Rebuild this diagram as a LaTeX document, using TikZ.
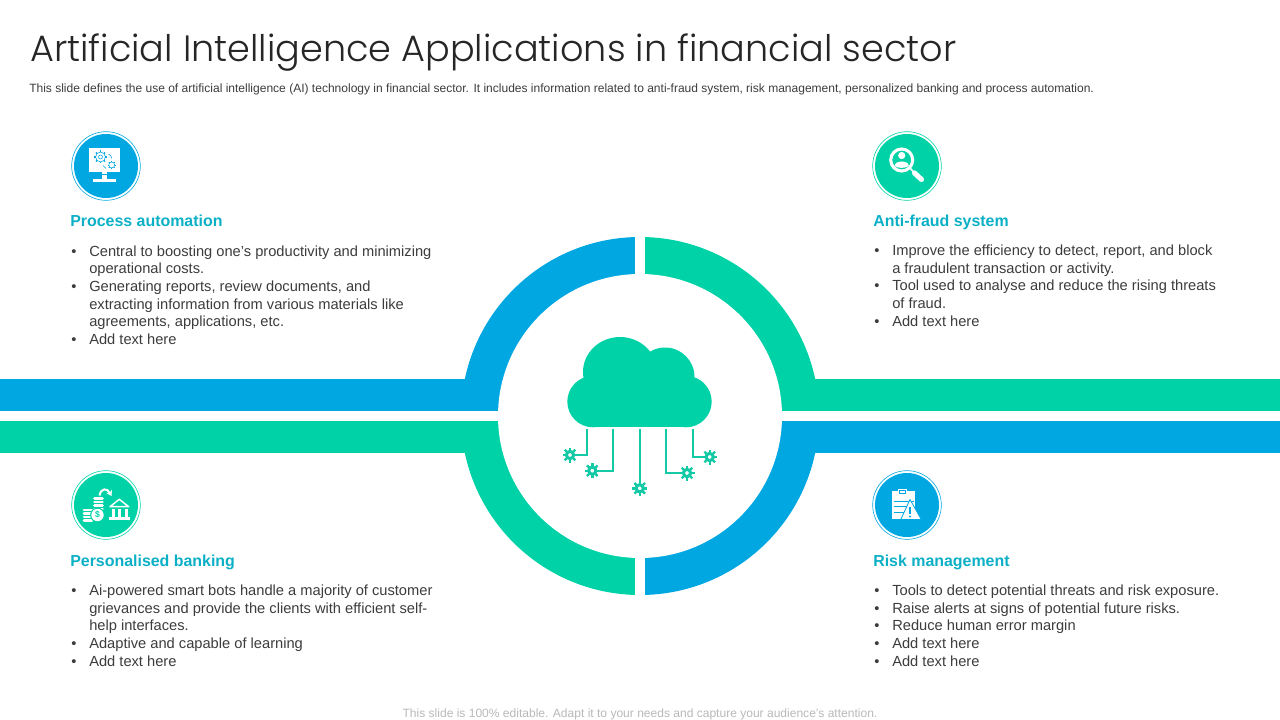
\documentclass[tikz,border=0pt]{standalone}
\usepackage{fontspec}
\usetikzlibrary{arrows.meta}
\setmainfont{Liberation Sans}
\newfontfamily\titlefont[UprightFont={* Light}]{Poppins}
\definecolor{ablue}{HTML}{00A7E1}
\definecolor{agreen}{HTML}{00D2A8}
\definecolor{aline}{HTML}{14C9A6}
\definecolor{ahead}{HTML}{0CB0C6}
\definecolor{abody}{HTML}{3C3C3C}
\tikzset{
  titletxt/.style={anchor=base west,inner sep=0pt,text=black!85,font=\titlefont\fontsize{27.47pt}{33pt}\selectfont},
  subtxt/.style={anchor=base west,inner sep=0pt,text=abody,font=\fontsize{9.02pt}{10pt}\selectfont},
  headtxt/.style={anchor=base west,inner sep=0pt,text=ahead,font=\bfseries\fontsize{11.95pt}{14pt}\selectfont},
  bodytxt/.style={anchor=base west,inner sep=0pt,text=abody,font=\fontsize{11pt}{13pt}\selectfont},
  foottxt/.style={anchor=base,inner sep=0pt,text=black!28,font=\fontsize{9.03pt}{10pt}\selectfont},
  gearnode/.style={circle,draw=aline,fill=white,inner sep=0pt,minimum size=5.4pt,line width=2.3pt},
  conn/.style={draw=aline,line width=1.35pt},
  badge/.style={circle,inner sep=0pt,minimum size=48pt,fill=#1},
  badgering/.style={circle,inner sep=0pt,minimum size=51.5pt,draw=#1,line width=0.45pt},
}
\newcommand\gearteeth[5]{\foreach \a in {0,45,...,315}{\draw[#5,line width=#4,line cap=butt] (#1) ++(\a:#2) -- ++(\a:#3);}}
\newcommand\bodyline[4]{\node[bodytxt] (#1) at (#2,#3) {#4};}
\newcommand\bulletat[3]{\node[bodytxt] (#1) at (#2,#3) {•};}
\begin{document}
\begin{tikzpicture}[x=0.75pt,y=-0.75pt]
\useasboundingbox (0,0) rectangle (1280,720);
% ring quadrants and bars
\begin{scope}\clip (0,0) rectangle (640,416); \fill[ablue] (640,416) circle (179); \fill[ablue] (0,379) rectangle (600,416); \end{scope}
\begin{scope}\clip (640,0) rectangle (1280,416); \fill[agreen] (640,416) circle (179); \fill[agreen] (680,379) rectangle (1280,416); \end{scope}
\begin{scope}\clip (0,416) rectangle (640,720); \fill[agreen] (640,416) circle (179); \fill[agreen] (0,416) rectangle (600,453); \end{scope}
\begin{scope}\clip (640,416) rectangle (1280,720); \fill[ablue] (640,416) circle (179); \fill[ablue] (680,416) rectangle (1280,453); \end{scope}
\fill[white] (0,411) rectangle (1280,421);
\fill[white] (635,230) rectangle (645,600);
\fill[white] (640,416) circle (142);
% cloud
\fill[agreen] (620,372) ellipse (37 and 35);
\fill[agreen] (665,377) circle (29.5);
\fill[agreen] (593,401.6) circle (25.7);
\fill[agreen] (686,401.6) circle (25.7);
\fill[agreen] (593,385) rectangle (686,427.3);
\fill[agreen] (600,365) rectangle (680,400);
% cloud gears and connectors
\coordinate (c1) at (586.7,429);
\coordinate (c2) at (613,429);
\coordinate (c3) at (639.7,429);
\coordinate (c4) at (666.3,429);
\coordinate (c5) at (692.7,429);
\node[gearnode] (g1) at (570,455) {};
\node[gearnode] (g2) at (592.3,470.7) {};
\node[gearnode] (g3) at (639.7,488.3) {};
\node[gearnode] (g4) at (687,473) {};
\node[gearnode] (g5) at (709.7,457) {};
\foreach \g in {g1,g2,g3,g4,g5}{\gearteeth{\g}{4.5}{3}{1.8pt}{aline}}
\draw[conn] (c1) |- (g1);
\draw[conn] (c2) |- (g2);
\draw[conn] (c3) -- (g3);
\draw[conn] (c4) |- (g4);
\draw[conn] (c5) |- (g5);
% badges
\node[badgering=ablue] (br1) at (106,166) {};
\node[badge=ablue] (b1) at (106,166) {};
\node[badgering=agreen] (br2) at (907,166) {};
\node[badge=agreen] (b2) at (907,166) {};
\node[badgering=agreen] (br3) at (106,505) {};
\node[badge=agreen] (b3) at (106,505) {};
\node[badgering=ablue] (br4) at (907,505) {};
\node[badge=ablue] (b4) at (907,505) {};
% monitor icon
\fill[white] (89.3,148) rectangle (119.5,172);
\fill[white] (102,172) rectangle (107,179.5);
\fill[white] (93,179.5) rectangle (115.5,182);
\fill[ablue] (101.5,174.5) rectangle (107.5,175.5);
\node[circle,draw=ablue,fill=white,line width=0.45pt,inner sep=0pt,minimum size=7.4pt] (m1) at (100.5,157) {};
\node[circle,draw=ablue,fill=white,line width=0.4pt,inner sep=0pt,minimum size=4.4pt] (m2) at (111.7,165) {};
\gearteeth{m1}{4.9}{1.6}{0.9pt}{ablue}
\gearteeth{m2}{2.9}{1.3}{0.7pt}{ablue}
\node[circle,draw=ablue,line width=0.4pt,inner sep=0pt,minimum size=3pt] (m3) at (100.5,157) {};
\draw[ablue,line width=0.4pt] (108.5,154) to[bend left=25] (112,158.5);
\draw[ablue,line width=0.4pt] (103,165.5) to[bend right=25] (106,168.5);
% magnifier icon
\draw[white,line width=2.3pt] (901.7,160) circle (11);
\fill[white] (901.7,155.5) circle (3.6);
\fill[white] (894.6,166) .. controls (894.6,160) and (908.8,160) .. (908.8,166) .. controls (905,168.5) and (898,168.5) .. (894.6,166);
\draw[white,line width=3.8pt,line cap=round] (914.5,173) -- (921.5,179.5);
\draw[white,line width=1.2pt] (910.5,168.5) -- (914,172.5);
% banking icon
\foreach \yy in {498.5,502,505.5,509}{\draw[white,line width=2pt,line cap=round] (94.5,\yy) -- (102.5,\yy);}
\foreach \yy in {510,513.5,517,520.5}{\draw[white,line width=2pt,line cap=round] (84,\yy) -- (92,\yy);}
\fill[agreen] (97.5,515) circle (7.4);
\fill[white] (97.5,515) circle (6.2);
\node[inner sep=0pt,text=agreen,font=\bfseries\fontsize{6.5pt}{6.5pt}\selectfont] (dollar) at (97.5,515) {\$};
\draw[white,line width=1.5pt,-{Stealth[length=4pt,width=5pt]}] (99.5,495.5) .. controls (101,488) and (107,487.5) .. (111.5,496);
\draw[white,line width=1.1pt,line join=round] (110,506.7) -- (119.3,499.3) -- (128.7,506.7) -- cycle;
\foreach \xx in {113,119.5,126}{\fill[white] (\xx-1.5,508.5) rectangle (\xx+1.5,517);}
\fill[white] (109,517) rectangle (130,520);
% risk icon
\fill[white] (892.3,491) rectangle (915,519);
\fill[white] (898,488.5) rectangle (906.5,494);
\draw[ablue,line width=0.4pt] (899.5,490) rectangle (905,493);
\foreach \yy in {501,506.7,512}{\draw[ablue,line width=0.5pt] (893.5,\yy) -- (914,\yy);}
\fill[white,draw=ablue,line width=0.6pt] (910,499.5) -- (921.3,519.5) -- (900.7,519.5) -- cycle;
\fill[ablue] (909,507) rectangle (911,514);
\fill[ablue] (910,516.5) circle (1.1);
% title and notes
\node[titletxt] (title) at (30,62) {Artificial Intelligence Applications in financial sector};
\node[subtxt] (sub) at (29,93) {This slide defines the use of artificial intelligence (AI) technology in financial sector. It includes information related to anti-fraud system, risk management, personalized banking and process automation.};
\node[foottxt] (foot) at (640,717) {This slide is 100\% editable. Adapt it to your needs and capture your audience's attention.};
% process automation
\node[headtxt] (h1) at (70,227) {Process automation};
\bulletat{pb1}{71}{256} \bodyline{pa1}{89}{256}{Central to boosting one’s productivity and minimizing}
\bodyline{pa2}{89}{273.5}{operational costs.}
\bulletat{pb2}{71}{291} \bodyline{pa3}{89}{291}{Generating reports, review documents, and}
\bodyline{pa4}{89}{309}{extracting information from various materials like}
\bodyline{pa5}{89}{326.5}{agreements, applications, etc.}
\bulletat{pb3}{71}{344} \bodyline{pa6}{89}{344}{Add text here}
% anti-fraud
\node[headtxt] (h2) at (873,227) {Anti-fraud system};
\bulletat{fb1}{874}{255} \bodyline{fa1}{892}{255}{Improve the efficiency to detect, report, and block}
\bodyline{fa2}{892}{273}{a fraudulent transaction or activity.}
\bulletat{fb2}{874}{290} \bodyline{fa3}{892}{290}{Tool used to analyse and reduce the rising threats}
\bodyline{fa4}{892}{308}{of fraud.}
\bulletat{fb3}{874}{326} \bodyline{fa5}{892}{326}{Add text here}
% personalised banking
\node[headtxt] (h3) at (70,566) {Personalised banking};
\bulletat{bb1}{71}{595} \bodyline{ba1}{89}{595}{Ai-powered smart bots handle a majority of customer}
\bodyline{ba2}{89}{613}{grievances and provide the clients with efficient self-}
\bodyline{ba3}{89}{630}{help interfaces.}
\bulletat{bb2}{71}{648} \bodyline{ba4}{89}{648}{Adaptive and capable of learning}
\bulletat{bb3}{71}{666} \bodyline{ba5}{89}{666}{Add text here}
% risk
\node[headtxt] (h4) at (873,566) {Risk management};
\bulletat{rb1}{874}{595} \bodyline{ra1}{892}{595}{Tools to detect potential threats and risk exposure.}
\bulletat{rb2}{874}{613} \bodyline{ra2}{892}{613}{Raise alerts at signs of potential future risks.}
\bulletat{rb3}{874}{630} \bodyline{ra3}{892}{630}{Reduce human error margin}
\bulletat{rb4}{874}{648} \bodyline{ra4}{892}{648}{Add text here}
\bulletat{rb5}{874}{666} \bodyline{ra5}{892}{666}{Add text here}
\end{tikzpicture}
\end{document}
